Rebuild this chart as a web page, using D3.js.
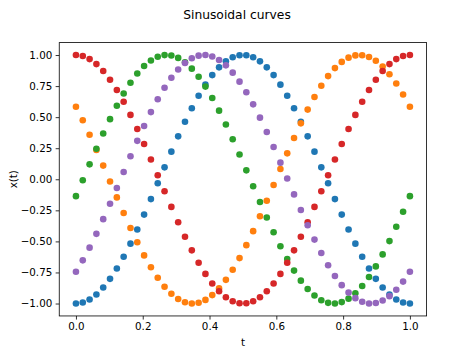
<!DOCTYPE html>
<html><head><meta charset="utf-8">
<script src="https://cdn.jsdelivr.net/npm/d3@7"></script>
<style>body{margin:0;background:#fff}svg{display:block}text{font-family:"DejaVu Sans",sans-serif;fill:#000}</style>
</head><body>
<script>
const tValues = d3.range(50).map(i => i / 49); // linspace(0,1,50) sample positions
const blue = [-1.0000,-0.9918,-0.9673,-0.9269,-0.8713,-0.8014,-0.7183,-0.6235,-0.5183,-0.4048,-0.2845,-0.1596,-0.0321,0.0960,0.2225,0.3453,0.4625,0.5721,0.6723,0.7617,0.8383,0.9010,0.9491,0.9816,0.9979,0.9979,0.9816,0.9491,0.9010,0.8383,0.7617,0.6723,0.5721,0.4625,0.3453,0.2225,0.0960,-0.0321,-0.1596,-0.2845,-0.4048,-0.5183,-0.6235,-0.7183,-0.8014,-0.8713,-0.9269,-0.9673,-0.9918,-1.0000];
const orange = [0.5835,0.4749,0.3585,0.2361,0.1099,-0.0181,-0.1458,-0.2711,-0.3920,-0.5064,-0.6125,-0.7085,-0.7929,-0.8644,-0.9216,-0.9637,-0.9899,-0.9999,-0.9935,-0.9708,-0.9321,-0.8781,-0.8096,-0.7279,-0.6343,-0.5303,-0.4175,-0.2979,-0.1734,-0.0460,0.0821,0.2088,0.3322,0.4500,0.5606,0.6618,0.7522,0.8302,0.8948,0.9446,0.9788,0.9969,0.9987,0.9841,0.9534,0.9070,0.8457,0.7703,0.6825,0.5835];
const green = [-0.1357,-0.0079,0.1200,0.2460,0.3679,0.4838,0.5917,0.6900,0.7768,0.8510,0.9112,0.9564,0.9859,0.9992,0.9961,0.9767,0.9412,0.8902,0.8247,0.7457,0.6543,0.5522,0.4410,0.3226,0.1989,0.0720,-0.0562,-0.1834,-0.3076,-0.4267,-0.5390,-0.6423,-0.7352,-0.8157,-0.8829,-0.9357,-0.9731,-0.9946,-0.9997,-0.9884,-0.9609,-0.9176,-0.8593,-0.7869,-0.7014,-0.6045,-0.4976,-0.3826,-0.2613,-0.1357];
const red = [1.0000,0.9918,0.9673,0.9269,0.8713,0.8014,0.7183,0.6235,0.5183,0.4048,0.2845,0.1596,0.0321,-0.0960,-0.2225,-0.3453,-0.4625,-0.5721,-0.6723,-0.7617,-0.8383,-0.9010,-0.9491,-0.9816,-0.9979,-0.9979,-0.9816,-0.9491,-0.9010,-0.8383,-0.7617,-0.6723,-0.5721,-0.4625,-0.3453,-0.2225,-0.0960,0.0321,0.1596,0.2845,0.4048,0.5183,0.6235,0.7183,0.8014,0.8713,0.9269,0.9673,0.9918,1.0000];
const purple = [-0.7443,-0.6525,-0.5505,-0.4393,-0.3208,-0.1971,-0.0701,0.0581,0.1852,0.3094,0.4284,0.5405,0.6437,0.7362,0.8167,0.8838,0.9364,0.9736,0.9948,0.9997,0.9881,0.9604,0.9168,0.8583,0.7857,0.7000,0.6030,0.4960,0.3808,0.2595,0.1338,0.0060,-0.1219,-0.2478,-0.3697,-0.4855,-0.5932,-0.6914,-0.7781,-0.8521,-0.9120,-0.9569,-0.9862,-0.9993,-0.9959,-0.9762,-0.9405,-0.8894,-0.8237,-0.7443];
const seriesList = [blue, orange, green, red, purple];
const colors = ["#1f77b4","#ff7f0e","#2ca02c","#d62728","#9467bd"];
const xTicks = [0, 0.2, 0.4, 0.6, 0.8, 1.0];
const yTicks = [-1, -0.75, -0.5, -0.25, 0, 0.25, 0.5, 0.75, 1];
const titleText = "Sinusoidal curves", xLabel = "t", yLabel = "x(t)";

const W = 474, H = 355;
const L = 59.25, R = 426.6, T = 42.6, B = 315.95;
const svg = d3.select("body").append("svg").attr("width", W).attr("height", H);
const x = d3.scaleLinear().domain([-0.05, 1.05]).range([L, R]);
const y = d3.scaleLinear().domain([-1.1, 1.1]).range([B, T]);
const fmtMinus = s => s.replace("-", "\u2212");

const gx = svg.append("g").attr("transform", `translate(0,${B})`)
  .call(d3.axisBottom(x).tickValues(xTicks).tickSize(3.6).tickPadding(3.4).tickFormat(d => fmtMinus(d3.format(".1f")(d))));
const gy = svg.append("g").attr("transform", `translate(${L},0)`)
  .call(d3.axisLeft(y).tickValues(yTicks).tickSize(3.6).tickPadding(3.4).tickFormat(d => fmtMinus(d3.format(".2f")(d))));
[gx, gy].forEach(g => {
  g.select(".domain").remove();
  g.selectAll("line").attr("stroke", "#000").attr("stroke-width", 0.8);
  g.selectAll("text").attr("font-size", "10.3px").attr("font-family", "DejaVu Sans").attr("fill", "#000");
});

const plot = svg.append("g");
seriesList.forEach((s, i) => {
  plot.selectAll(null).data(s).enter().append("circle")
    .attr("cx", (d, j) => x(tValues[j])).attr("cy", d => y(d))
    .attr("r", 3.3).attr("fill", colors[i]);
});

svg.append("rect").attr("x", L).attr("y", T).attr("width", R - L).attr("height", B - T)
  .attr("fill", "none").attr("stroke", "#000").attr("stroke-width", 0.8);

svg.append("text").attr("x", W / 2).attr("y", 18.5).attr("text-anchor", "middle").attr("font-size", "12.3px").text(titleText);
svg.append("text").attr("x", (L + R) / 2).attr("y", 346).attr("text-anchor", "middle").attr("font-size", "10.3px").text(xLabel);
svg.append("text").attr("transform", `translate(17,${(T + B) / 2}) rotate(-90)`).attr("text-anchor", "middle").attr("font-size", "10.3px").text(yLabel);
</script>
</body></html>
